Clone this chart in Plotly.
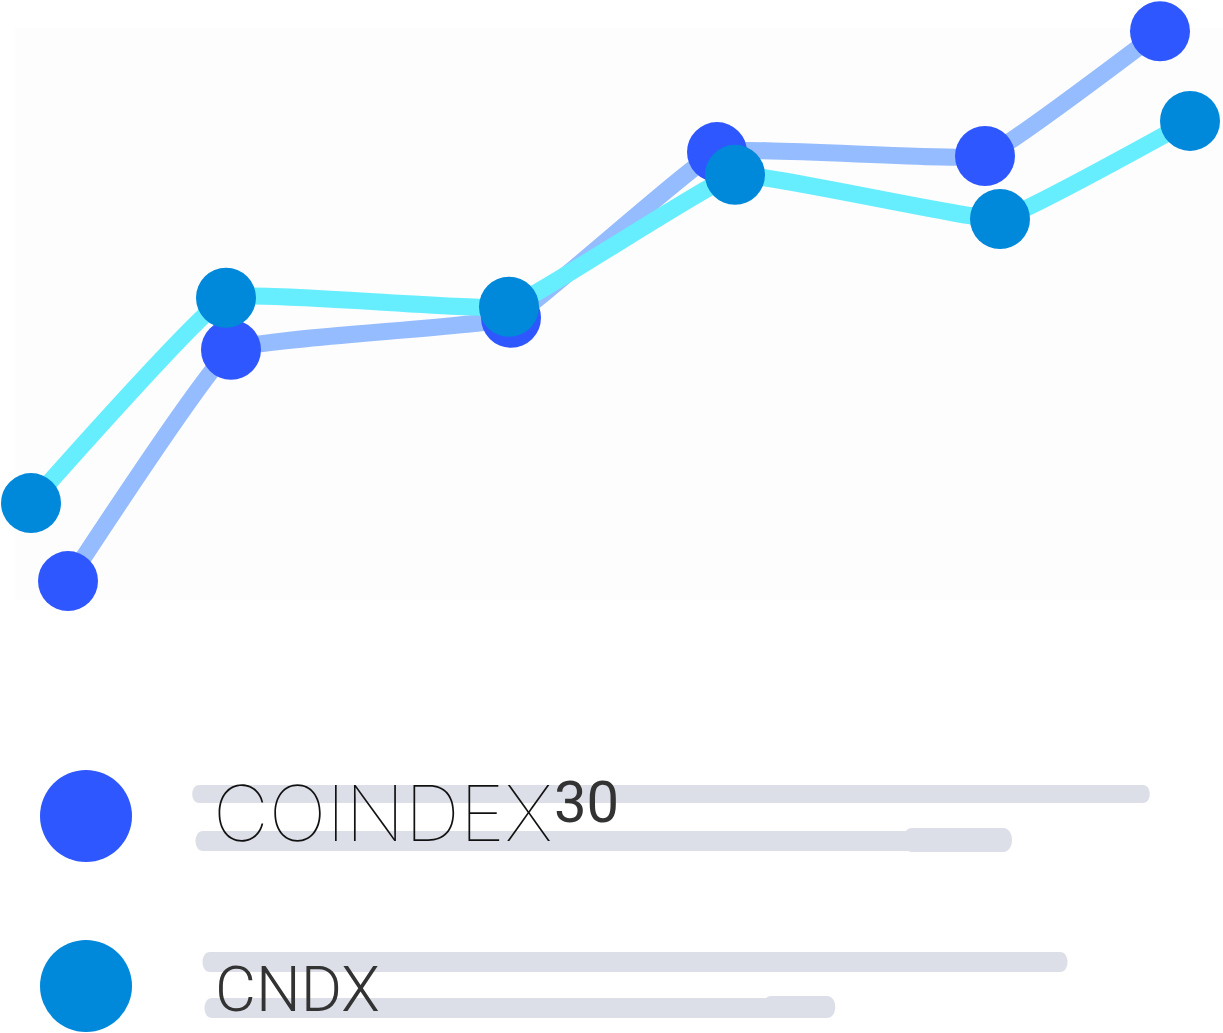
import plotly.graph_objects as go

OFF = 0  # body margin removed via post_script
W, H = 1223 - OFF, 1033 - OFF

# ---- data ----
series_names = ["COINDEX30", "CNDX"]
coindex_x = [0.68, 2.31, 5.11, 7.17, 9.85, 11.60]
coindex_y = [10.6, 46.2, 51.1, 76.6, 76.0, 95.2]
cndx_x = [0.31, 2.26, 5.09, 7.35, 10.00, 11.90]
cndx_y = [22.6, 54.2, 52.8, 73.1, 66.3, 81.4]

marker_colors = ["#2F57FF", "#0088DB"]
line_colors = ["#95BCFF", "#66EEFF"]

fig = go.Figure()
for xs, ys, lc in [(coindex_x, coindex_y, line_colors[0]), (cndx_x, cndx_y, line_colors[1])]:
    fig.add_trace(go.Scatter(x=xs, y=ys, mode="lines",
                             line=dict(color=lc, width=17, shape="spline", smoothing=0.25),
                             showlegend=False, hoverinfo="skip", cliponaxis=False))
for xs, ys, mc, nm in [(coindex_x, coindex_y, marker_colors[0], series_names[0]),
                       (cndx_x, cndx_y, marker_colors[1], series_names[1])]:
    fig.add_trace(go.Scatter(x=xs, y=ys, mode="markers", name=nm,
                             marker=dict(color=mc, size=60, line=dict(width=0)),
                             showlegend=False, cliponaxis=False))


def px(x):
    return (x - OFF) / W


def py(y):
    return 1 - (y - OFF) / H


def bar_path(x0, x1, yc, h):
    a = f"M {px(x0+h)},{py(yc-h)} L {px(x1-h)},{py(yc-h)} "
    a += f"C {px(x1)},{py(yc-h)} {px(x1)},{py(yc+h)} {px(x1-h)},{py(yc+h)} "
    a += f"L {px(x0+h)},{py(yc+h)} "
    a += f"C {px(x0)},{py(yc+h)} {px(x0)},{py(yc-h)} {px(x0+h)},{py(yc-h)} Z"
    return a


shapes = []
# faint chart background
shapes.append(dict(type="rect", xref="paper", yref="paper", x0=px(15), x1=1, y0=py(600), y1=py(28),
                   fillcolor="#FDFDFD", line=dict(width=0), layer="below"))
bar_color = "#DCDFE8"
for (x0, x1, yc, h) in [(190, 1152, 794, 9), (193, 940, 841, 10), (900, 1015, 840, 12),
                        (200, 1070, 962, 10), (202, 800, 1008, 10), (760, 838, 1007, 11)]:
    shapes.append(dict(type="path", xref="paper", yref="paper", path=bar_path(x0, x1, yc, h),
                       fillcolor=bar_color, line=dict(width=0), layer="below"))
# legend symbols
for (cy, c) in [(816, marker_colors[0]), (986, marker_colors[1])]:
    shapes.append(dict(type="circle", xref="paper", yref="paper", x0=px(40), x1=px(132),
                       y0=py(cy + 46), y1=py(cy - 46), fillcolor=c, line=dict(width=0)))

annotations = [
    dict(text="COINDEX", x=px(211), y=py(813), xref="paper", yref="paper", xanchor="left",
         yanchor="middle", showarrow=False,
         font=dict(family="Inter", size=77, color="#111111", weight=100)),
    dict(text="30", x=px(552), y=py(802), xref="paper", yref="paper", xanchor="left",
         yanchor="middle", showarrow=False,
         font=dict(family="Roboto", size=58, color="#333333")),
    dict(text="CNDX", x=px(213), y=py(989), xref="paper", yref="paper", xanchor="left",
         yanchor="middle", showarrow=False,
         font=dict(family="Roboto", size=63, color="#333333", weight=300)),
]

fig.update_layout(
    width=W, height=H,
    margin=dict(l=0, r=0, t=0, b=0),
    paper_bgcolor="#FFFFFF", plot_bgcolor="rgba(0,0,0,0)",
    xaxis=dict(range=[OFF / 100, (OFF + W) / 100], visible=False, domain=[0, 1]),
    yaxis=dict(range=[100 - (H + OFF) / 6.5, 100 - OFF / 6.5], visible=False, domain=[0, 1]),
    shapes=shapes, annotations=annotations, showlegend=False,
)

fig.write_html("out.html", config={"displayModeBar": False},
               post_script="document.body.style.margin='0';document.body.style.overflow='hidden';")
